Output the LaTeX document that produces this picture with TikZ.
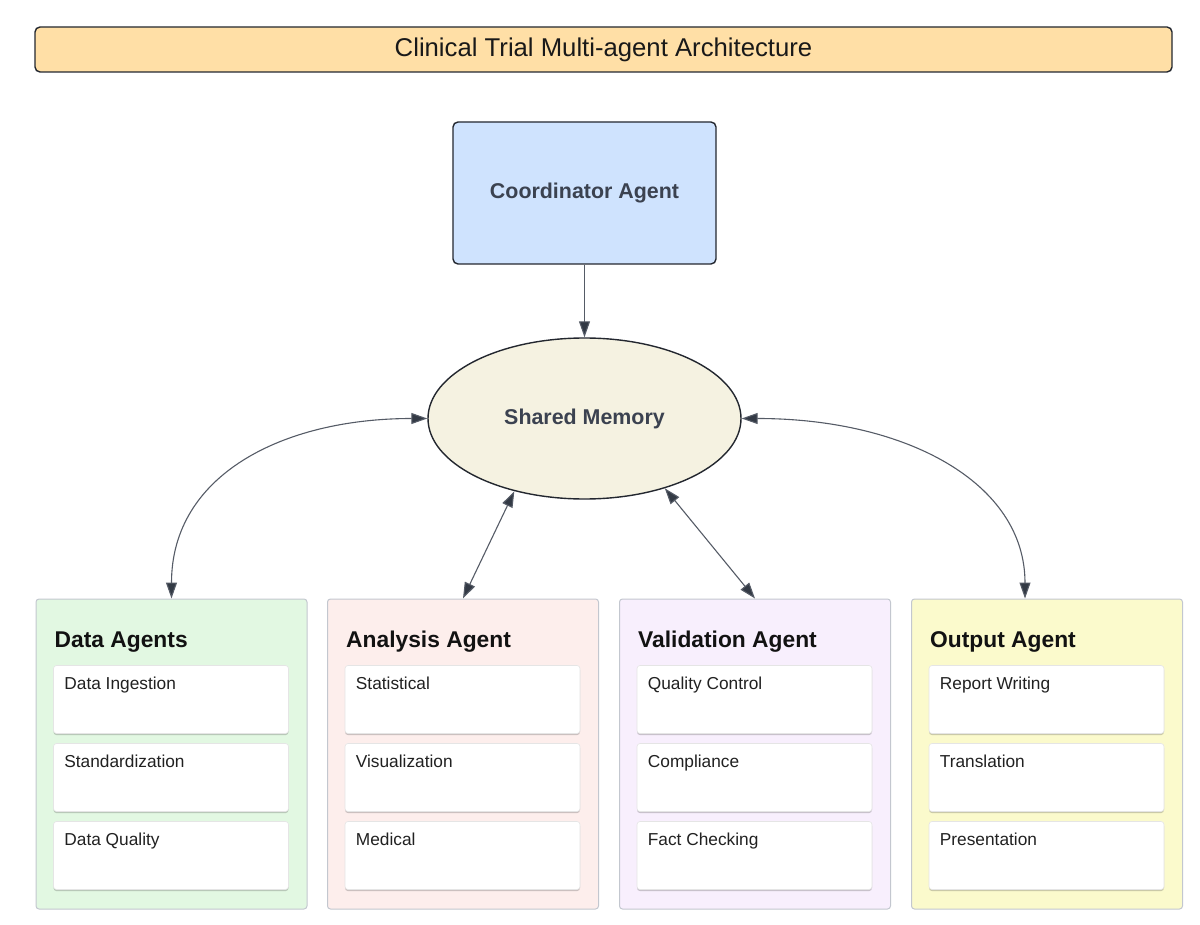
\documentclass[tikz,border=0pt]{standalone}
\usepackage{fontspec}
\setmainfont{Liberation Sans}
\usetikzlibrary{shapes.geometric,arrows.meta,shadows,calc}
\definecolor{titlefill}{HTML}{FFDFA6}
\definecolor{coordfill}{HTML}{CFE3FE}
\definecolor{memfill}{HTML}{F5F2E1}
\definecolor{gfillA}{HTML}{E2F8E2}
\definecolor{gfillB}{HTML}{FDEEEC}
\definecolor{gfillC}{HTML}{F8EFFD}
\definecolor{gfillD}{HTML}{FBFACC}
\definecolor{gborder}{HTML}{C3C7CF}
\definecolor{darkline}{HTML}{23272F}
\definecolor{labeltext}{HTML}{3B4250}
\definecolor{arrowline}{HTML}{555B66}
\definecolor{arrowhead}{HTML}{333A45}
\tikzset{
  titlebox/.style={draw=darkline, line width=1.4pt, fill=titlefill, rounded corners=5pt,
    minimum width=1137pt, minimum height=45pt, inner sep=0pt,
    font=\fontsize{25.7}{30}\selectfont, text=black!90},
  coordbox/.style={draw=darkline, line width=1.4pt, fill=coordfill, rounded corners=5pt,
    minimum width=263pt, minimum height=142pt, inner sep=0pt,
    font=\bfseries\fontsize{21.4}{25}\selectfont, text=labeltext},
  membox/.style={ellipse, draw=darkline, line width=1.4pt, fill=memfill,
    minimum width=313pt, minimum height=161pt, inner sep=0pt,
    font=\bfseries\fontsize{21.4}{25}\selectfont, text=labeltext},
  grp/.style={draw=gborder, line width=1pt, rounded corners=3pt,
    minimum width=271pt, minimum height=310pt, inner sep=0pt},
  gtitle/.style={anchor=base west, inner sep=0pt,
    font=\bfseries\fontsize{22.8}{27}\selectfont, text=black!93},
  card/.style={fill=white, draw=black!10, line width=0.6pt, rounded corners=3pt,
    minimum width=235pt, minimum height=68pt, inner sep=0pt,
    drop shadow={shadow xshift=0pt, shadow yshift=-1.6pt, opacity=0.28, fill=black!70}},
  ctext/.style={anchor=base west, inner sep=0pt,
    font=\fontsize{17.3}{21}\selectfont, text=black!87},
  tip/.style={},
  link/.style={draw=arrowline, line width=1.1pt,
    -{Triangle[length=16pt,width=11pt,fill=arrowhead]}},
  link2/.style={draw=arrowline, line width=1.1pt,
    {Triangle[length=16pt,width=11pt,fill=arrowhead]}-{Triangle[length=16pt,width=11pt,fill=arrowhead]}}
}
\newcommand\agentgrp[7]{%
  \node[grp, fill=#3] (#1) at (#2,754) {};
  \node[gtitle] (#1t) at ($(#1.north west)+(19,49)$) {#4};
  \node[card] (#1a) at ($(#1.north west)+(135.5,101)$) {};
  \node[ctext] (#1at) at ($(#1a.north west)+(11,24)$) {#5};
  \node[card] (#1b) at ($(#1.north west)+(135.5,179)$) {};
  \node[ctext] (#1bt) at ($(#1b.north west)+(11,24)$) {#6};
  \node[card] (#1c) at ($(#1.north west)+(135.5,257)$) {};
  \node[ctext] (#1ct) at ($(#1c.north west)+(11,24)$) {#7};
}
\begin{document}
\begin{tikzpicture}[x=1pt,y=-1pt]
\useasboundingbox (0,0) rectangle (1200,925);
\node[titlebox] (title) at (603.5,49.5) {\raisebox{2pt}{Clinical Trial Multi-agent Architecture}};
\node[coordbox] (coord) at (584.5,193) {\raisebox{-1.5pt}{Coordinator Agent}};
\node[membox] (mem) at (584.5,418.5) {Shared Memory};

\agentgrp{gA}{171.5}{gfillA}{Data Agents}{Data Ingestion}{Standardization}{Data Quality}
\agentgrp{gB}{463}{gfillB}{Analysis Agent}{Statistical}{Visualization}{Medical}
\agentgrp{gC}{755}{gfillC}{Validation Agent}{Quality Control}{Compliance}{Fact Checking}
\agentgrp{gD}{1047}{gfillD}{Output Agent}{Report Writing}{Translation}{Presentation}

\draw[link] (coord.south) -- (mem.north);
\draw[link2] (mem.west) .. controls ($(mem.west)+(-144,0)$) and ($(gA.north)+(0,-124)$) .. (gA.north);
\draw[link2] (mem.-134) -- (gB.north);
\draw[link2] (mem.-41) -- (gC.north);
\coordinate (oD) at ($(gD.north)+(-22,0)$);
\draw[link2] (mem.east) .. controls ($(mem.east)+(164,0)$) and ($(oD)+(0,-116)$) .. (oD);
\end{tikzpicture}
\end{document}
